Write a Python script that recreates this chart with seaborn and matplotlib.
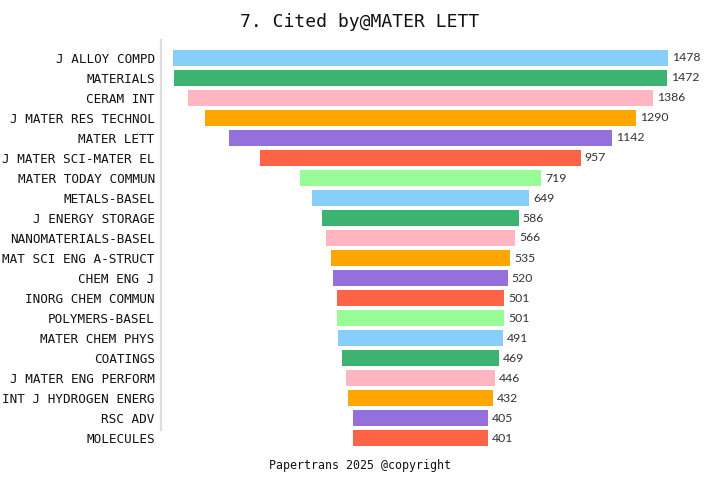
import matplotlib
matplotlib.use("Agg")
import matplotlib.pyplot as plt
import seaborn as sns
import pandas as pd

# journals citing MATER LETT, top 20
journals = ["J ALLOY COMPD", "MATERIALS", "CERAM INT", "J MATER RES TECHNOL",
            "MATER LETT", "J MATER SCI-MATER EL", "MATER TODAY COMMUN",
            "METALS-BASEL", "J ENERGY STORAGE", "NANOMATERIALS-BASEL",
            "MAT SCI ENG A-STRUCT", "CHEM ENG J", "INORG CHEM COMMUN",
            "POLYMERS-BASEL", "MATER CHEM PHYS", "COATINGS",
            "J MATER ENG PERFORM", "INT J HYDROGEN ENERG", "RSC ADV", "MOLECULES"]
cited = [1478, 1472, 1386, 1290, 1142, 957, 719, 649, 586, 566,
         535, 520, 501, 501, 491, 469, 446, 432, 405, 401]
base_colors = ["#87CEFA", "#3CB371", "#FFB6C1", "#FFA500",
               "#9370DB", "#FF6347", "#98FB98"]

df = pd.DataFrame({"journal": journals, "cited": cited})
colors = [base_colors[i % len(base_colors)] for i in range(len(df))]

sns.set_style("white")
fig = plt.figure(figsize=(7.2, 4.8), dpi=100)
ax = fig.add_axes([161 / 720, 1 - 448 / 480, (680 - 161) / 720, 408 / 480])

sns.barplot(data=df, x="cited", y="journal", hue="journal", palette=colors,
            width=0.8, linewidth=0, saturation=1, legend=False, ax=ax)

# center each bar on zero -> funnel look
for p in ax.patches:
    w = p.get_width()
    p.set_x(-w / 2)

for i, v in enumerate(cited):
    ax.text(v / 2 + 12, i, str(v), va="center", ha="left",
            fontsize=8.8, color="#333333", family="Lato")

ax.set_xlim(-775, 775)
ax.set_ylim(19.5, -0.9)
ax.set_xlabel("")
ax.set_ylabel("")
ax.set_xticks([])
for s in ["top", "right", "bottom"]:
    ax.spines[s].set_visible(False)
ax.spines["left"].set_color("#dddddd")
ax.spines["left"].set_linewidth(1.6)
ax.spines["left"].set_bounds(-0.9, 18.6)
ax.tick_params(axis="y", length=0, pad=4.5)
for lab in ax.get_yticklabels():
    lab.set_family("DejaVu Sans Mono")
    lab.set_fontsize(9.1)
    lab.set_color("#111111")

fig.text(0.5, 1 - 22 / 480, "7. Cited by@MATER LETT", ha="center", va="center",
         fontsize=13, family="DejaVu Sans Mono", color="#111111")
fig.text(0.5, 1 - 465 / 480, "Papertrans 2025 @copyright", ha="center",
         va="center", fontsize=8.4, family="DejaVu Sans Mono", color="#111111")

fig.savefig("out.png", dpi=100)
